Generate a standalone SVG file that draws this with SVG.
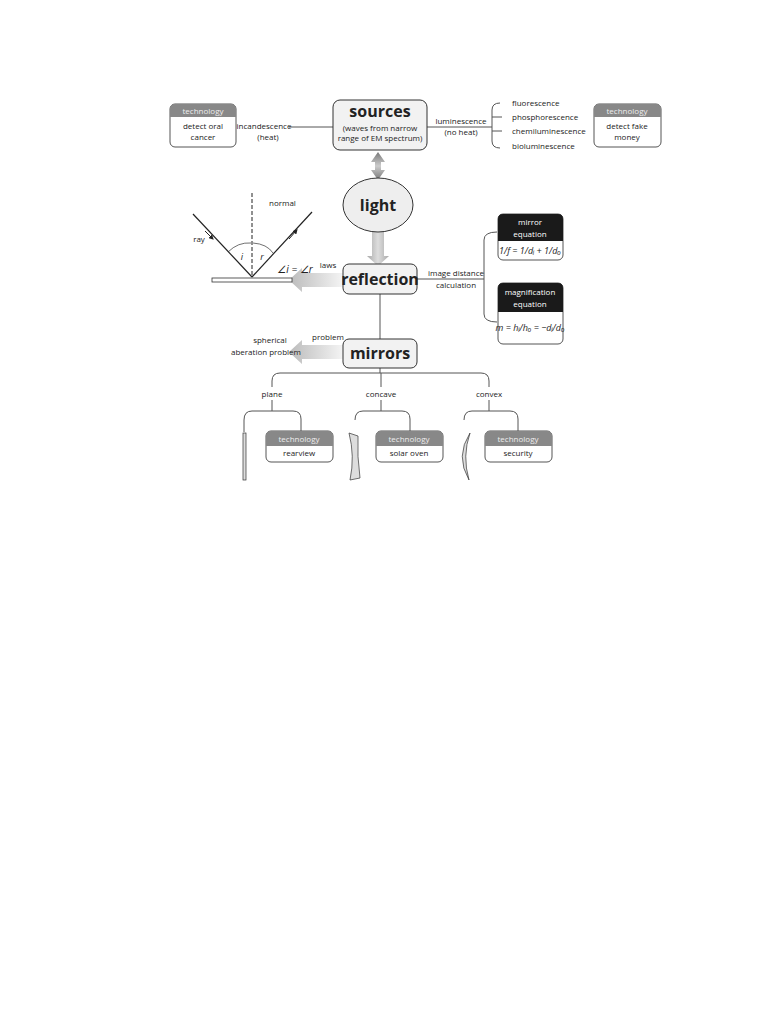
<svg xmlns="http://www.w3.org/2000/svg" width="768" height="1024" viewBox="0 0 768 1024">
<defs>
<linearGradient id="gv" x1="0" y1="0" x2="0" y2="1"><stop offset="0" stop-color="#777"/><stop offset="0.5" stop-color="#ccc"/><stop offset="1" stop-color="#777"/></linearGradient>
<linearGradient id="gh" x1="0" y1="0" x2="1" y2="0"><stop offset="0" stop-color="#bbb"/><stop offset="1" stop-color="#f4f4f4"/></linearGradient>
<linearGradient id="gs" x1="0" y1="0" x2="1" y2="0"><stop offset="0" stop-color="#aaa"/><stop offset="0.5" stop-color="#ddd"/><stop offset="1" stop-color="#aaa"/></linearGradient>
<marker id="ah" viewBox="0 0 10 10" refX="5" refY="5" markerWidth="5" markerHeight="5" orient="auto"><path d="M0,0 L10,5 L0,10 z" fill="#222"/></marker>
</defs>
<style>
text{font-family:"Open Sans","Liberation Sans",sans-serif;fill:#222;text-anchor:middle}
.s{font-size:8px}
.big{font-size:16px;font-weight:bold}
.box{fill:#f2f2f2;stroke:#333;stroke-width:1}
.wb{fill:#fff;stroke:#555;stroke-width:1}
.ln{fill:none;stroke:#555;stroke-width:1}
.th{fill:#888}
.tt{font-size:8px;fill:#eee}
.bh{fill:#1a1a1a}
.wt{font-size:8px;fill:#fff}
</style>
<rect width="768" height="1024" fill="#fff"/>
<g id="connectors">
<path class="ln" d="M289,127 H333 M427,127 H492 M500,103 Q492,103 492,110 V141 Q492,148 500,148 M492,117 H502 M492,131 H502 M417,279 H484 M497,232 Q484,232 484,240 V314 Q484,322 497,322 M380,294 V339 M380,368 V373 M272,381 Q272,373 280,373 H481 Q489,373 489,381 V387 M272,381 V387 M381,373 V387 M272,400 V411 M244,420 Q244,411 252,411 H293 Q301,411 301,419 V431 M244,420 V432 M381,400 V411 M355,420 Q355,411 363,411 H402 Q410,411 410,419 V431 M489,400 V411 M464,420 Q464,411 472,411 H510 Q518,411 518,419 V431"/>
<path d="M378,152 L371,162 H375 V170 H371 L378,180 L385,170 H381 V162 H385 Z" fill="url(#gv)"/>
<path d="M372,231 V256 H367 L378,266 L389,256 H384 V231 Z" fill="url(#gs)"/>
<path d="M343,273 H302 V268 L289,280 L302,292 V287 H343 Z" fill="url(#gh)"/>
<path d="M343,345 H302 V340 L289,352 L302,364 V359 H343 Z" fill="url(#gh)"/>
</g>
<g id="tech-left"><rect class="wb" x="170" y="104" width="66" height="43" rx="5"/><path class="th" d="M175,104 H231 Q236,104 236,109 V117 H170 V109 Q170,104 175,104 Z"/><text class="tt" x="203" y="114">technology</text><text class="s" x="203" y="129">detect oral</text><text class="s" x="203" y="140">cancer</text></g>
<g id="incandescence"><text class="s" x="264" y="129">incandescence</text><text class="s" x="268" y="140">(heat)</text></g>
<g id="sources"><rect class="box" x="333" y="100" width="94" height="50" rx="7"/><text class="big" x="380" y="117">sources</text><text class="s" x="380" y="131">(waves from narrow</text><text class="s" x="380" y="141">range of EM spectrum)</text></g>
<g id="luminescence"><text class="s" x="461" y="124">luminescence</text><text class="s" x="461" y="135">(no heat)</text></g>
<g id="lum-types" style="text-anchor:start"><text class="s" x="512" y="106" style="text-anchor:start">fluorescence</text><text class="s" x="512" y="120" style="text-anchor:start">phosphorescence</text><text class="s" x="512" y="134" style="text-anchor:start">chemiluminescence</text><text class="s" x="512" y="149" style="text-anchor:start">bioluminescence</text></g>
<g id="tech-right"><rect class="wb" x="594" y="104" width="67" height="43" rx="5"/><path class="th" d="M599,104 H656 Q661,104 661,109 V117 H594 V109 Q594,104 599,104 Z"/><text class="tt" x="627" y="114">technology</text><text class="s" x="627" y="129">detect fake</text><text class="s" x="627" y="140">money</text></g>
<g id="light"><ellipse cx="378" cy="205" rx="35" ry="27" fill="#eee" stroke="#333"/><text class="big" x="378" y="211">light</text></g>
<g id="law-diagram">
<rect x="212" y="278" width="80" height="4" fill="#fff" stroke="#333" stroke-width="0.8"/>
<line x1="252" y1="193" x2="252" y2="277" stroke="#222" stroke-dasharray="4,2"/>
<line x1="193" y1="214" x2="252" y2="277" stroke="#222" stroke-width="1.2"/>
<line x1="252" y1="277" x2="312" y2="212" stroke="#222" stroke-width="1.2"/>
<path d="M205,231 L212,238" stroke="#222" marker-end="url(#ah)"/>
<path d="M289,239 L296,231" stroke="#222" marker-end="url(#ah)"/>
<path d="M228,252 Q238,242 251,243" fill="none" stroke="#333" stroke-width="0.7"/>
<path d="M253,243 Q267,244 273,253" fill="none" stroke="#333" stroke-width="0.7"/>
<text class="s" x="269" y="206" style="text-anchor:start" x-adj="0">normal</text>
<text class="s" x="199" y="242">ray</text>
<text x="242" y="260" style="font-size:9px;font-style:italic">i</text>
<text x="262" y="260" style="font-size:9px;font-style:italic">r</text>
<text x="295" y="273" style="font-size:10px;font-style:italic">∠i = ∠r</text>
</g>
<g id="reflection"><rect class="box" x="343" y="264" width="74" height="30" rx="6"/><text class="big" x="380" y="285">reflection</text><text class="s" x="328" y="268">laws</text><text class="s" x="456" y="276">image distance</text><text class="s" x="456" y="288">calculation</text></g>
<g id="mirror-eq"><rect class="wb" x="498" y="214" width="65" height="46" rx="5"/><path class="bh" d="M503,214 H558 Q563,214 563,219 V241 H498 V219 Q498,214 503,214 Z"/><text class="wt" x="530" y="225">mirror</text><text class="wt" x="530" y="237">equation</text><text x="530" y="254" style="font-size:9px;font-style:italic">1/f = 1/dᵢ + 1/dₒ</text></g>
<g id="mag-eq"><rect class="wb" x="498" y="283" width="65" height="61" rx="5"/><path class="bh" d="M503,283 H558 Q563,283 563,288 V312 H498 V288 Q498,283 503,283 Z"/><text class="wt" x="530" y="295">magnification</text><text class="wt" x="530" y="307">equation</text><text x="530" y="331" style="font-size:9px;font-style:italic">m = hᵢ/hₒ = −dᵢ/dₒ</text></g>
<g id="mirrors"><rect class="box" x="343" y="339" width="74" height="29" rx="6"/><text class="big" x="380" y="359">mirrors</text><text class="s" x="328" y="340">problem</text><text class="s" x="270" y="343">spherical</text><text class="s" x="266" y="355">aberation problem</text></g>
<g id="plane"><text class="s" x="272" y="397">plane</text><rect x="243" y="433" width="3" height="47" fill="#ddd" stroke="#333" stroke-width="0.7"/></g>
<g id="concave"><text class="s" x="381" y="397">concave</text><path d="M349,433 L358,436 Q357,456 360,478 L350,480 Q355,456 349,433 Z" fill="#ddd" stroke="#333" stroke-width="0.7"/></g>
<g id="convex"><text class="s" x="489" y="397">convex</text><path d="M470,433 Q455,456 469,480 Q462,456 470,433 Z" fill="#ddd" stroke="#333" stroke-width="0.7"/></g>
<g id="tech-rearview"><rect class="wb" x="266" y="431" width="67" height="31" rx="5"/><path class="th" d="M271,431 H328 Q333,431 333,436 V446 H266 V436 Q266,431 271,431 Z"/><text class="tt" x="299" y="442">technology</text><text class="s" x="299" y="456">rearview</text></g>
<g id="tech-solar"><rect class="wb" x="376" y="431" width="67" height="31" rx="5"/><path class="th" d="M381,431 H438 Q443,431 443,436 V446 H376 V436 Q376,431 381,431 Z"/><text class="tt" x="409" y="442">technology</text><text class="s" x="409" y="456">solar oven</text></g>
<g id="tech-security"><rect class="wb" x="485" y="431" width="67" height="31" rx="5"/><path class="th" d="M490,431 H547 Q552,431 552,436 V446 H485 V436 Q485,431 490,431 Z"/><text class="tt" x="518" y="442">technology</text><text class="s" x="518" y="456">security</text></g>
</svg>
